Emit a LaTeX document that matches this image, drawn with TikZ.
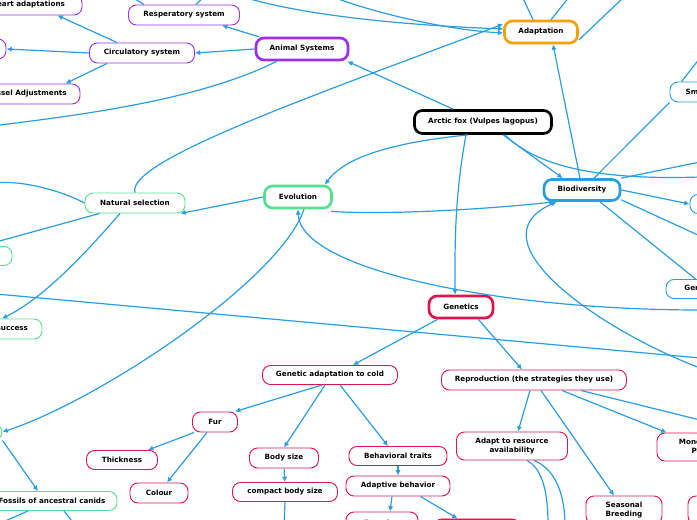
\documentclass[tikz,border=0pt]{standalone}
\usepackage{fontspec}
\setmainfont{DejaVu Sans}
\usetikzlibrary{arrows.meta,calc}
\definecolor{lb}{HTML}{2A9DE0}
\definecolor{cr}{HTML}{E0144C}
\definecolor{pu}{HTML}{9B30E8}
\definecolor{gr}{HTML}{55E08E}
\definecolor{or}{HTML}{F5A000}
\tikzset{
 bx/.style={draw, fill=white, rounded corners=6pt, font=\fontsize{5.4}{6.6}\selectfont\bfseries, align=center, inner sep=0pt, line width=0.7pt},
 thk/.style={line width=2pt},
 ln/.style={draw=lb, line width=0.9pt},
 ar/.style={ln, -{Latex[length=4pt,width=4pt]}},
}
\begin{document}
\begin{tikzpicture}[x=0.75pt,y=-0.75pt]
\useasboundingbox (0,0) rectangle (697,520);
\clip (0,0) rectangle (697,520);
% ---- nodes
\def\N#1#2#3#4#5#6#7{\node[bx,#1,minimum width=#5*0.75pt,minimum height=#6*0.75pt] (#2) at (#3,#4) {#7};}
\N{draw=pu}{heart}{28}{5}{108}{20}{Heart adaptations}
\N{draw=pu}{resp}{184}{15}{111}{20}{Resperatory system}
\N{draw=pu,thk}{anim}{302}{49}{92}{22}{Animal Systems}
\N{draw=pu}{circ}{142}{53}{105}{20}{Circulatory system}
\N{draw=pu}{pl}{-40}{49}{92}{20}{Thermoregulation}
\N{draw=pu}{bves}{14}{94}{132}{20}{Blood Vessel Adjustments}
\N{draw=or,thk}{adapt}{541}{32}{73}{22}{Adaptation}
\N{draw=black,thk}{fox}{483}{122}{137}{23}{Arctic fox (Vulpes lagopus)}
\N{draw=lb,thk}{bio}{582}{190}{76}{21}{Biodiversity}
\N{draw=lb}{small}{707}{92}{74}{20}{Small ears}
\N{draw=lb}{rb}{740}{204}{100}{19}{Habitat}
\N{draw=lb}{gen2}{719}{289}{106}{19}{Genetic diversity}
\N{draw=gr}{nat}{135}{203}{100}{20}{Natural selection}
\N{draw=gr,thk}{evo}{298}{197}{67}{22}{Evolution}
\N{draw=gr}{lg1}{-40}{256}{104}{19}{Variation}
\N{draw=gr}{rsucc}{-16}{329}{116}{20}{Reproductive success}
\N{draw=gr}{lg2}{-50}{432}{104}{16}{Speciation}
\N{draw=gr}{foss}{52}{501}{130}{19}{Fossils of ancestral canids}
\N{draw=cr,thk}{genet}{461}{307}{64}{22}{Genetics}
\N{draw=cr}{gac}{330}{375}{135}{19}{Genetic adaptation to cold}
\N{draw=cr}{repr}{534}{380}{185}{20}{Reproduction (the strategies they use)}
\N{draw=cr}{fur}{215}{422}{45}{20}{Fur}
\N{draw=cr}{thick}{122}{460}{71}{19}{Thickness}
\N{draw=cr}{colour}{159}{493}{58}{20}{Colour}
\N{draw=cr}{body}{284}{458}{69}{20}{Body size}
\N{draw=cr}{cbody}{285}{492}{105}{19}{compact body size}
\N{draw=cr}{behav}{398}{456}{98}{19}{Behavioral traits}
\N{draw=cr}{adb}{398}{486}{104}{20}{Adaptive behavior}
\N{draw=cr}{forag}{382}{524}{72}{24}{Foraging}
\N{draw=cr,fill=cr}{fill1}{477}{530}{86}{22}{}
\N{draw=cr}{res}{512}{446}{111}{28}{Adapt to resource\\availability}
\N{draw=cr}{seas}{624}{510}{76}{28}{Seasonal\\Breeding}
\N{draw=cr}{mono}{706}{447}{98}{28}{Monogamous\\Pairing}
\N{draw=cr}{rb2}{720}{510}{64}{28}{}
% ---- edges
\draw[ar] ($(anim.north west)+(4,0)$) -- ($(resp.south east)+(-18,0)$);
\draw[ar] (anim.west) -- (circ.east);
\draw[ar] ($(circ.north west)+(28,0)$) -- ($(heart.south east)+(-25,0)$);
\draw[ar] (circ.west) -- (pl.east);
\draw[ar] ($(circ.south west)+(18,0)$) -- ($(bves.north east)+(-15,0)$);
\draw[ln] ($(anim.south west)+(22,0)$) .. controls (200,100) and (80,115) .. (0,125);
\draw[ar] ($(fox.north west)+(40,0)$) -- ($(anim.south east)+(-2,0)$);
\draw[ln] ($(resp.north west)+(16,0)$) -- (130,-4);
\draw[ln] ($(resp.north)+(12,0)$) -- (205,-4);
\draw[ar] (240,-4) .. controls (300,15) and (400,25) .. ($(adapt.west)+(0,-3)$);
\draw[ar] (330,-4) .. controls (380,15) and (450,30) .. ($(adapt.west)+(0,1)$);
\draw[ar] (nat.north) .. controls (125,160) and (330,90) .. ($(adapt.west)+(0,-8)$);
\draw[ln] ($(adapt.north)+(-8,0)$) -- (522,-4);
\draw[ln] ($(adapt.north)+(10,0)$) -- (570,-4);
\draw[ln] ($(adapt.east)+(0,8)$) -- (625,-4);
\draw[ar] ($(bio.north)+(-2,0)$) -- ($(adapt.south)+(12,0)$);
\draw[ar] ($(fox.south)+(20,0)$) -- ($(bio.north west)+(20,0)$);
\draw[ln] ($(fox.south)+(22,0)$) .. controls (540,170) and (610,180) .. (700,177);
\draw[ar] ($(fox.south)+(-17,0)$) .. controls (454,200) and (455,250) .. ($(genet.north)+(-6,0)$);
\draw[ar] ($(fox.south)+(-15,0)$) .. controls (420,140) and (350,150) .. ($(evo.north east)+(-8,0)$);
\draw[ln] ($(bio.north)+(12,0)$) -- (small.south west);
\draw[ln] ($(small.north west)+(12,0)$) -- (700,58);
\draw[ln] (bio.north east) -- (700,162);
\draw[ar] (bio.east) -- (rb.west);
\draw[ln] ($(bio.south east)+(0,-2)$) -- (700,236);
\draw[ln] ($(bio.south)+(18,0)$) -- ($(gen2.north west)+(30,0)$);
\draw[ar] ($(evo.south east)+(-2,2)$) .. controls (380,215) and (480,210) .. ($(bio.south west)+(12,0)$);
\draw[ar] (700,368) .. controls (600,330) and (470,240) .. ($(bio.south west)+(14,0)$);
\draw[ar] (700,310) .. controls (500,310) and (300,270) .. (evo.south);
\draw[ar] (evo.west) -- ($(nat.south east)+(-5,0)$);
\draw[ar] ($(evo.south)+(6,0)$) .. controls (280,280) and (100,400) .. (lg2.east);
\draw[ln] (nat.west) .. controls (60,190) and (20,180) .. (-4,183);
\draw[ln] ($(nat.south west)+(15,0)$) -- (-4,242);
\draw[ar] ($(nat.south)+(-15,0)$) .. controls (80,260) and (40,300) .. ($(rsucc.north)+(18,0)$);
\draw[ln] (-4,294) -- (700,358);
\draw[ar] ($(lg2.south east)+(0,0)$) -- ($(foss.north)+(-14,0)$);
\draw[ln] ($(foss.south)+(-24,0)$) -- (-4,525);
\draw[ln] ($(foss.south)+(12,0)$) -- (75,525);
\draw[ar] ($(gac.south west)+(60,0)$) -- ($(fur.north east)+(-3,0)$);
\draw[ar] ($(genet.south west)+(10,0)$) -- ($(gac.north east)+(-45,0)$);
\draw[ar] ($(genet.south east)+(-16,0)$) -- ($(repr.north)+(-12,0)$);
\draw[ar] ($(gac.south)+(-5,0)$) -- (body.north);
\draw[ar] ($(gac.south)+(10,0)$) -- ($(behav.north)+(-10,0)$);
\draw[ar] ($(fur.south west)+(2,0)$) -- ($(thick.north east)+(-10,0)$);
\draw[ar] ($(fur.south)+(-8,0)$) -- ($(colour.north)+(8,0)$);
\draw[ar] (body.south) -- (cbody.north);
\draw[ln] (cbody.south) -- (284,525);
\draw[ar] (behav.south) -- (adb.north);
\draw[ar] ($(adb.south)+(-6,0)$) -- ($(forag.north)+(8,0)$);
\draw[ar] ($(adb.south east)+(-30,0)$) -- ($(fill1.north west)+(24,0)$);
\draw[ar] ($(repr.south)+(-4,0)$) -- ($(res.north)+(6,0)$);
\draw[ar] ($(repr.south)+(7,0)$) -- ($(seas.north)+(-10,0)$);
\draw[ar] ($(repr.south)+(28,0)$) -- ($(mono.north west)+(10,0)$);
\draw[ln] ($(repr.south)+(47,0)$) -- (700,420);
\draw[ln] ($(res.south)+(15,0)$) .. controls (545,470) and (548,500) .. (548,525);
\draw[ln] ($(res.south)+(22,0)$) .. controls (558,470) and (565,500) .. (565,525);
\end{tikzpicture}
\end{document}
